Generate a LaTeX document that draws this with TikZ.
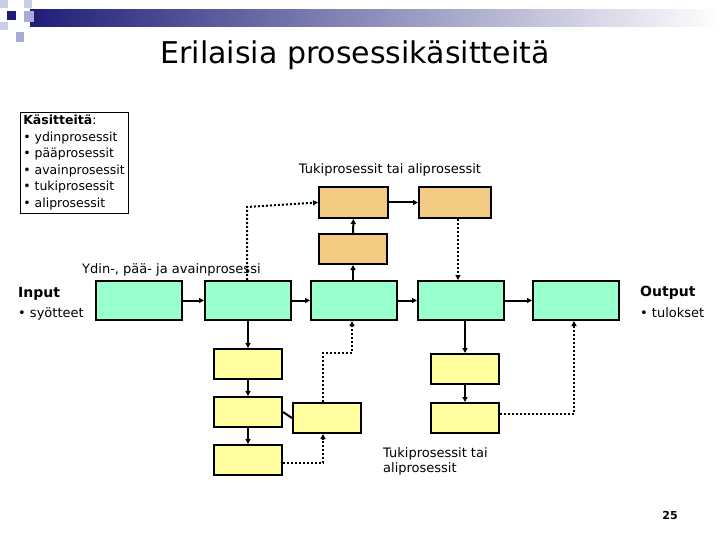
\documentclass[tikz,border=0pt]{standalone}
\usepackage{fontspec}
\setmainfont{DejaVu Sans}
\usetikzlibrary{arrows.meta}
\definecolor{gr}{RGB}{153,255,204}
\definecolor{orb}{RGB}{243,203,130}
\definecolor{yel}{RGB}{255,255,160}
\definecolor{navy}{RGB}{30,30,120}
\definecolor{lav}{RGB}{170,170,215}
\begin{document}
\begin{tikzpicture}[x=1pt,y=-1pt,
  box/.style={draw=black,line width=2pt,inner sep=0pt},
  arr/.style={line width=2pt,-{Triangle[length=5pt,width=5pt]}},
  dot/.style={line width=2pt,dotted,-{Triangle[length=5pt,width=5pt]}},
  dotn/.style={line width=2pt,dotted},
  txt/.style={font=\fontsize{13}{15}\selectfont,inner sep=0pt}]
\useasboundingbox (0,0) rectangle (720,540);
% header
\shade[left color=navy,right color=white,shading angle=90] (30,10) rectangle (720,27);
\fill[lav!60] (0,0) rectangle (8,8);
\fill[lav!60] (24,0) rectangle (32,8);
\fill[navy] (7,11) rectangle (16,20);
\fill[lav] (24,11) rectangle (34,22);
\fill[lav!60] (0,22) rectangle (8,30);
\fill[lav] (16,32) rectangle (24,42);
\node[font=\fontsize{30}{34}\selectfont] (title) at (355,55) {Erilaisia prosessikäsitteitä};
% legend
\node[draw=black,line width=0.6pt,anchor=north west,align=left,inner sep=3pt,font=\fontsize{12.5}{16.5}\selectfont] (leg) at (20,112)
 {\textbf{Käsitteitä}:\\• ydinprosessit\\• pääprosessit\\• avainprosessit\\• tukiprosessit\\• aliprosessit};
% green
\foreach \n/\a in {g1/95,g2/204,g3/310,g4/417,g5/532}
  \node[box,fill=gr,minimum width=86pt,minimum height=39pt,anchor=north west] (\n) at (\a,280) {};
% orange
\node[box,fill=orb,minimum width=69pt,minimum height=31pt,anchor=north west] (o1) at (318,186) {};
\node[box,fill=orb,minimum width=72pt,minimum height=31pt,anchor=north west] (o2) at (418,186) {};
\node[box,fill=orb,minimum width=68pt,minimum height=30pt,anchor=north west] (o3) at (318,233) {};
% yellow
\foreach \n/\a/\b in {y1/213/348,y2/213/396,y3/213/444,ym/292/402,r1/430/353,r2/430/402}
  \node[box,fill=yel,minimum width=68pt,minimum height=30pt,anchor=north west] (\n) at (\a,\b) {};
% arrows main
\foreach \a/\b in {g1/g2,g2/g3,g3/g4,g4/g5,o1/o2}
  \draw[arr] (\a.east) -- (\b.west);
\draw[arr] (g3.north -| o3.south) -- (o3.south);
\draw[arr] (o3) -- (o1);
\draw[arr] (g2.south -| y1.north) -- (y1.north);
\draw[arr] (y1) -- (y2);
\draw[arr] (y2) -- (y3);
\draw[line width=2pt] (y2.east) -- (ym.west);
\draw[arr] (g4.south -| r1.north) -- (r1.north);
\draw[arr] (r1) -- (r2);
% dotted
\coordinate (c1) at (247,207);
\draw[dot] (g2.north -| c1) -- (c1) -- (o1.west);
\coordinate (c2) at (458,0);
\draw[dot] (o2.south -| c2) -- (g4.north -| c2);
\coordinate (c3) at (323,463);
\draw[dot] (y3.east |- c3) -- (c3) -- (ym.south -| c3);
\coordinate (c4) at (323,353);
\coordinate (c5) at (352,353);
\draw[dot] (ym.north -| c4) -- (c4) -- (c5) -- (g3.south -| c5);
\coordinate (c6) at (574,414);
\draw[dot] (r2.east |- c6) -- (c6) -- (g5.south -| c6);
% labels
\node[txt] (t1) at (390,170) {Tukiprosessit tai aliprosessit};
\node[txt,anchor=west] (t2) at (82,270) {Ydin-, pää- ja avainprosessi};
\node[txt,anchor=north west,align=left] (t3) at (383,447) {Tukiprosessit tai\\aliprosessit};
\node[anchor=west,inner sep=0pt,font=\fontsize{14}{16}\selectfont\bfseries] (in) at (18,294) {Input};
\node[txt,anchor=west] (in2) at (18,314) {• syötteet};
\node[anchor=west,inner sep=0pt,font=\fontsize{14}{16}\selectfont\bfseries] (out) at (640,293) {Output};
\node[txt,anchor=west] (out2) at (640,313) {• tulokset};
\node[font=\fontsize{11}{13}\selectfont\bfseries] (pg) at (670,515) {25};
\end{tikzpicture}
\end{document}
